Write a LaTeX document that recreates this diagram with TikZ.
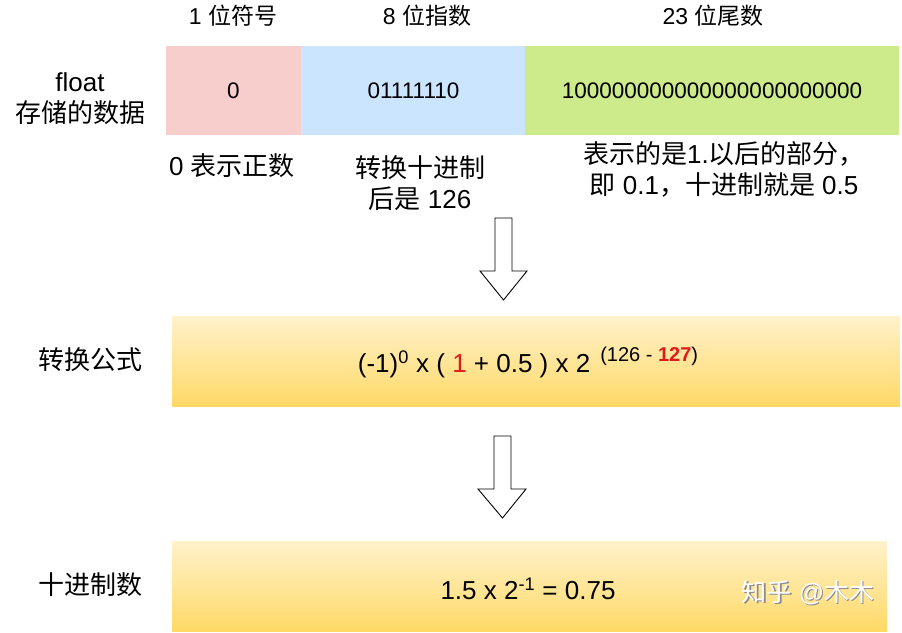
\documentclass[tikz,border=0pt]{standalone}
\usepackage{fontspec}
\setmainfont{Liberation Sans}
\newfontfamily\cjk{Noto Sans CJK SC}
\definecolor{pinkc}{HTML}{F8CECC}
\definecolor{bluec}{HTML}{CCE5FF}
\definecolor{greenc}{HTML}{CDEB8B}
\definecolor{ytop}{HTML}{FFF2CC}
\definecolor{ybot}{HTML}{FFD966}
\definecolor{fred}{HTML}{E01B1B}
\begin{document}
\begin{tikzpicture}[x=1pt,y=-1pt,
  lbl/.style={inner sep=0pt, align=center, font=\fontsize{26}{31}\selectfont},
  head/.style={inner sep=0pt, align=center, font=\fontsize{23}{27}\selectfont},
  bitbox/.style={draw=none, inner sep=0pt, minimum height=89pt, font=\fontsize{22.5}{26}\selectfont},
  ybox/.style={draw=none, inner sep=0pt, minimum height=90pt, top color=ytop, bottom color=ybot},
  blockarrow/.style={draw=black, fill=white, line width=0.9pt, line join=miter}
]
\useasboundingbox (0,0) rectangle (902,632);

% headings
\node[head] (h1) at (233,16) {1 {\cjk 位符号}};
\node[head] (h2) at (427,16) {8 {\cjk 位指数}};
\node[head] (h3) at (713,16) {23 {\cjk 位尾数}};

% bit boxes
\node[bitbox, fill=pinkc, minimum width=135pt] (sign) at (233.5,90.5) {0};
\node[bitbox, fill=bluec, minimum width=225pt] (expo) at (413.5,90.5) {01111110};
\node[bitbox, fill=greenc, minimum width=374pt] (mant) at (712,90.5) {100000000000000000000000};

% left label
\node[lbl] (flt) at (80,99) {float\\{\cjk 存储的数据}};

% notes below
\node[lbl] (n1) at (232,166) {0 {\cjk 表示正数}};
\node[lbl] (n2) at (420,183) {{\cjk 转换十进制}\\{\cjk 后是} 126};
\node[lbl] (n3) at (724,169) {{\cjk 表示的是}1.{\cjk 以后的部分，}\\{\cjk 即} 0.1{\cjk ，十进制就是} 0.5};

% arrow 1
\draw[blockarrow] (495,218) -- (512,218) -- (512,271) -- (527,271) -- (503.5,300) -- (480,271) -- (495,271) -- cycle;

% formula box
\node[ybox, minimum width=728pt] (fbox) at (536,361) {};
\node[lbl] (fl) at (90,360) {{\cjk 转换公式}};
\node[lbl] (form) at (528,362) {(-1)\textsuperscript{0} x ( \textcolor{fred}{1} + 0.5 ) x 2\hspace{10pt}\raisebox{11pt}{\fontsize{20}{20}\selectfont (126 - \textbf{\textcolor{fred}{127}})}};

% arrow 2
\draw[blockarrow] (494,436) -- (511,436) -- (511,489) -- (526,489) -- (502.5,518) -- (478,489) -- (494,489) -- cycle;

% result box
\node[ybox, minimum width=715pt] (rbox) at (529.5,586) {};
\node[lbl] (rl) at (90,585) {{\cjk 十进制数}};
\node[lbl] (res) at (528,589) {1.5 x 2\textsuperscript{-1} = 0.75};

% watermark
\node[lbl, text=black!45, font=\fontsize{25}{30}\selectfont] (wms) at (809.2,594.2) {{\cjk 知乎} @{\cjk 木木}};
\node[lbl, text=white, font=\fontsize{25}{30}\selectfont] (wm) at (808,593) {{\cjk 知乎} @{\cjk 木木}};
\end{tikzpicture}
\end{document}
